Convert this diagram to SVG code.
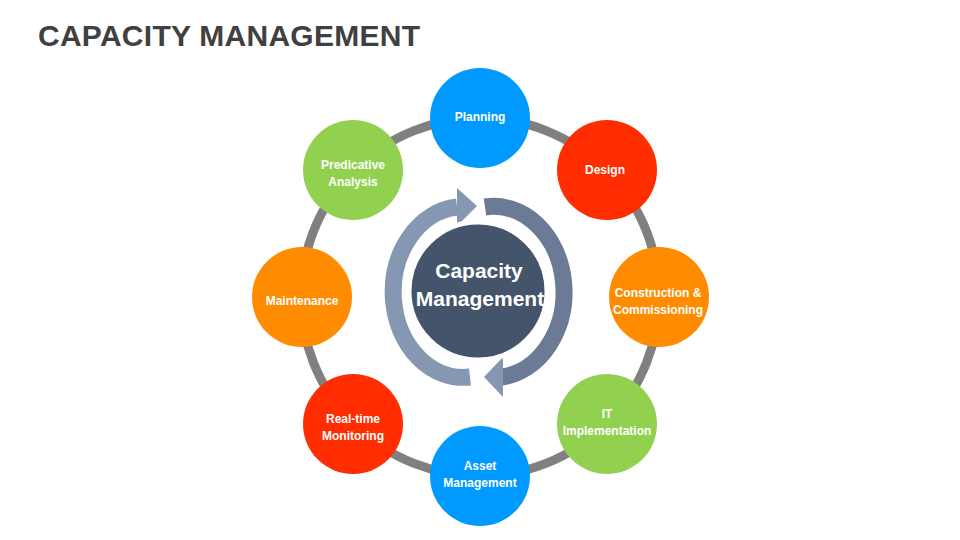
<svg xmlns="http://www.w3.org/2000/svg" width="960" height="540" viewBox="0 0 960 540">
<style>
.n{stroke:none}
.t{font-family:"Liberation Sans",Arial,sans-serif;font-weight:bold;font-size:12px;fill:#fff;text-anchor:middle}
.blue{fill:#0099ff}.red{fill:#ff2d00}.orange{fill:#ff8c00}.green{fill:#92d050}
</style>
<rect width="960" height="540" fill="#fff"/>
<text x="38" y="46" font-family="'Liberation Sans',Arial,sans-serif" font-weight="bold" font-size="30" fill="#404040" textLength="382">CAPACITY MANAGEMENT</text>
<g id="connectors">
<circle cx="480" cy="297" r="179" fill="none" stroke="#808080" stroke-width="9"/>
<path d="M470 377 A70 85 0 0 1 457 207" fill="none" stroke="#8597b1" stroke-width="17"/>
<polygon points="457,188 477,206 457,226" fill="#8597b1"/>
<path d="M485 207 A70 85 0 0 1 502 377" fill="none" stroke="#6b7b95" stroke-width="17"/>
<polygon points="503,357 484,377 503,397" fill="#8597b1"/>
</g>
<g id="center">
<circle cx="478" cy="291" r="69" fill="#44546a" stroke="#fff" stroke-width="5"/>
<text x="479" y="278" font-family="'Liberation Sans',Arial,sans-serif" font-weight="bold" font-size="21" fill="#fff" text-anchor="middle">Capacity</text>
<text x="480" y="306" font-family="'Liberation Sans',Arial,sans-serif" font-weight="bold" font-size="21" fill="#fff" text-anchor="middle">Management</text>
</g>
<g id="planning"><circle class="blue" cx="480" cy="118" r="50"/><text class="t" x="480" y="121">Planning</text></g>
<g id="design"><circle class="red" cx="607" cy="170" r="50"/><text class="t" x="605" y="174">Design</text></g>
<g id="construction"><circle class="orange" cx="659" cy="297" r="50"/><text class="t" x="658" y="297">Construction &amp;</text><text class="t" x="658" y="314">Commissioning</text></g>
<g id="it"><circle class="green" cx="607" cy="424" r="50"/><text class="t" x="607" y="418">IT</text><text class="t" x="607" y="435">Implementation</text></g>
<g id="asset"><circle class="blue" cx="480" cy="476" r="50"/><text class="t" x="480" y="470">Asset</text><text class="t" x="480" y="487">Management</text></g>
<g id="realtime"><circle class="red" cx="353" cy="424" r="50"/><text class="t" x="353" y="423">Real-time</text><text class="t" x="353" y="440">Monitoring</text></g>
<g id="maintenance"><circle class="orange" cx="302" cy="297" r="50"/><text class="t" x="302" y="305">Maintenance</text></g>
<g id="predicative"><circle class="green" cx="353" cy="170" r="50"/><text class="t" x="353" y="169">Predicative</text><text class="t" x="353" y="186">Analysis</text></g>
</svg>
